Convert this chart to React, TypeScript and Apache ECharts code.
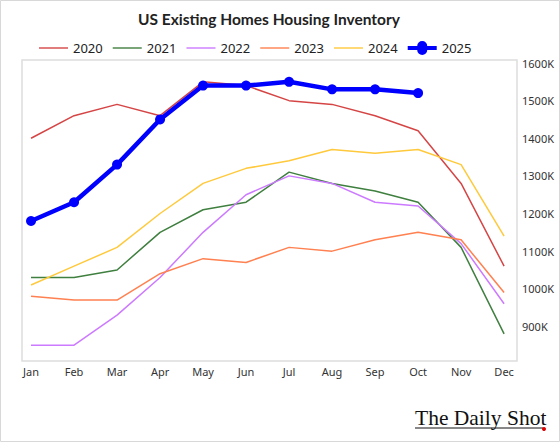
import React, { useEffect, useRef } from "react";
import * as echarts from "echarts";

const months = ["Jan", "Feb", "Mar", "Apr", "May", "Jun", "Jul", "Aug", "Sep", "Oct", "Nov", "Dec"];
const yTicks = [900, 1000, 1100, 1200, 1300, 1400, 1500, 1600];

const s2020 = [1400, 1460, 1490, 1460, 1550, 1540, 1500, 1490, 1460, 1420, 1280, 1060];
const s2021 = [1030, 1030, 1050, 1150, 1210, 1230, 1310, 1280, 1260, 1230, 1110, 880];
const s2022 = [850, 850, 930, 1030, 1150, 1250, 1300, 1280, 1230, 1220, 1120, 960];
const s2023 = [980, 970, 970, 1040, 1080, 1070, 1110, 1100, 1130, 1150, 1130, 990];
const s2024 = [1010, 1060, 1110, 1200, 1280, 1320, 1340, 1370, 1360, 1370, 1330, 1140];
const s2025 = [1180, 1230, 1330, 1450, 1540, 1540, 1550, 1530, 1530, 1520];

const seriesDefs = [
  { name: "2020", data: s2020, color: "#d64545" },
  { name: "2021", data: s2021, color: "#3f7f3f" },
  { name: "2022", data: s2022, color: "#cc7aff" },
  { name: "2023", data: s2023, color: "#ff8050" },
  { name: "2024", data: s2024, color: "#ffc93c" },
  { name: "2025", data: s2025, color: "#0000ff" },
];

const FONT = "'Noto Sans', sans-serif";
const LINE_ICON = "path://M0,0 M0,6.3 L29,6.3 L29,7.7 L0,7.7 Z M29,14";
const THICK_ICON = "path://M0,0 M0,5 L9.5,5 A5,5 0 0 1 19.5,5 L29,5 L29,9 L19.5,9 A5,5 0 0 1 9.5,9 L0,9 Z M29,14";

export default function App() {
  const ref = useRef<HTMLDivElement>(null);
  useEffect(() => {
    document.body.style.margin = "0";
    if (!ref.current) return;
    const chart = echarts.init(ref.current, null, { renderer: "svg" });
    const series = seriesDefs.map((s) => {
      const is25 = s.name === "2025";
      return {
        name: s.name,
        type: "line",
        data: s.data.map((v, i) => [i, v]),
        showSymbol: is25,
        symbol: is25 ? "circle" : "none",
        symbolSize: is25 ? 10 : 0,
        z: is25 ? 10 : 2,
        lineStyle: { color: s.color, width: is25 ? 4.5 : 1.5 },
        itemStyle: { color: s.color },
        emphasis: { disabled: true },
      };
    });
    chart.setOption({
      animation: false,
      backgroundColor: "#ffffff",
      title: {
        text: "US Existing Homes Housing Inventory",
        left: 133,
        top: 6,
        textStyle: { fontFamily: "Lato, sans-serif", fontSize: 15.5, fontWeight: "bold", color: "#222" },
      },
      legend: {
        top: 36,
        left: 34,
        itemWidth: 29,
        itemHeight: 14,
        itemGap: 10,
        textStyle: { fontFamily: FONT, fontSize: 13, color: "#222" },
        data: seriesDefs.map((s) => ({
          name: s.name,
          icon: s.name === "2025" ? THICK_ICON : LINE_ICON,
          itemStyle: { color: s.color, borderWidth: 0 },
        })),
      },
      grid: { left: 22, right: 43, top: 60, bottom: 81, show: true, borderColor: "#dddddd", borderWidth: 1.5 },
      xAxis: {
        type: "value",
        min: -0.21,
        max: 11.3,
        axisLine: { show: false },
        axisTick: { show: false },
        splitLine: { show: false },
        axisLabel: {
          customValues: months.map((_, i) => i),
          formatter: (v: number) => months[Math.round(v)],
          fontFamily: FONT,
          fontSize: 11,
          color: "#333",
          margin: 5,
        },
      },
      yAxis: {
        type: "value",
        position: "right",
        min: 808,
        max: 1608,
        axisLine: { show: false },
        axisTick: { show: false },
        splitLine: { show: false },
        axisLabel: {
          customValues: yTicks,
          formatter: (v: number) => v + "K",
          fontFamily: FONT,
          fontSize: 11,
          color: "#333",
          margin: 5,
        },
      },
      series,
      graphic: [
        {
          type: "rect",
          shape: { x: 0.5, y: 0.5, width: 559, height: 441 },
          style: { fill: "none", stroke: "#d8d8d8", lineWidth: 1 },
          silent: true,
        },
        {
          type: "text",
          x: 415,
          y: 418,
          style: {
            text: "The Daily Shot",
            font: "21.5px 'Liberation Serif', serif",
            fill: "#111",
            verticalAlign: "middle",
          },
        },
        {
          type: "line",
          shape: { x1: 415, y1: 428, x2: 543, y2: 428 },
          style: { stroke: "#111", lineWidth: 1 },
        },
        {
          type: "circle",
          shape: { cx: 544, cy: 429, r: 2 },
          style: { fill: "#e00000" },
        },
      ],
    });
    return () => chart.dispose();
  }, []);
  return <div ref={ref} style={{ width: 560, height: 442 }} />;
}
